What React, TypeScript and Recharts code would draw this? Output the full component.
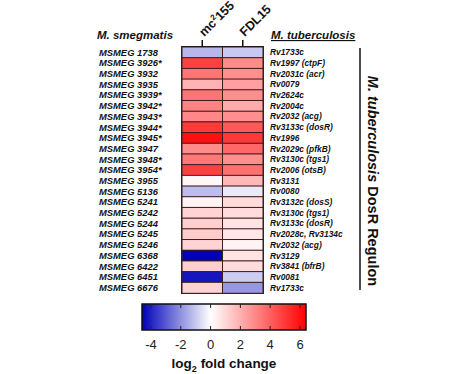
import { Bar, BarChart, Cell, ReferenceArea, XAxis, YAxis } from "recharts";

const smegGenes = [
  "MSMEG 1738", "MSMEG 3926*", "MSMEG 3932", "MSMEG 3935", "MSMEG 3939*", "MSMEG 3942*",
  "MSMEG 3943*", "MSMEG 3944*", "MSMEG 3945*", "MSMEG 3947", "MSMEG 3948*", "MSMEG 3954*",
  "MSMEG 3955", "MSMEG 5136", "MSMEG 5241", "MSMEG 5242", "MSMEG 5244", "MSMEG 5245",
  "MSMEG 5246", "MSMEG 6368", "MSMEG 6422", "MSMEG 6451", "MSMEG 6676"
];

const tbGenes = [
  "Rv1733c", "Rv1997 (ctpF)", "Rv2031c (acr)", "Rv0079", "Rv2624c", "Rv2004c",
  "Rv2032 (acg)", "Rv3133c (dosR)", "Rv1996", "Rv2029c (pfkB)", "Rv3130c (tgs1)", "Rv2006 (otsB)",
  "Rv3131", "Rv0080", "Rv3132c (dosS)", "Rv3130c (tgs1)", "Rv3133c (dosR)", "Rv2028c, Rv3134c",
  "Rv2032 (acg)", "Rv3129", "Rv3841 (bfrB)", "Rv0081", "Rv1733c"
];

// log2 fold change
const mc2155 = [-1.3, 4.8, 3.5, 1.9, 3.5, 3.1, 3.0, 5.0, 6.0, 2.9, 3.4, 4.8, 0.2, -1.2, 0.3, 1.1, 1.2, 1.3, 1.1, -4.6, 1.2, -4.2, 1.1];
const fdl15 = [-1.0, 2.9, 2.8, 2.4, 2.8, 2.1, 2.8, 4.2, 5.0, 3.8, 2.8, 3.6, 1.8, -0.4, 0.9, 0.9, 0.7, 0.6, 0.3, 0.7, 0.9, -0.9, -1.9];

const scaleTicks = [-4, -2, 0, 2, 4, 6];
const scaleMin = -4.6;
const scaleMax = 6.4;

const font = "'Liberation Sans', Arial, sans-serif";
const blue = [0, 0, 185];
const red = [255, 0, 0];

function colorFor(v: number) {
  const end = v < 0 ? blue : red;
  const t = Math.min(1, v < 0 ? v / scaleMin : v / scaleMax);
  const c = end.map((e) => Math.round(255 + (e - 255) * t));
  return `rgb(${c[0]},${c[1]},${c[2]})`;
}

const rows = smegGenes.map((gene, i) => ({ gene, tb: tbGenes[i], a: 1, b: 1 }));
const scaleRow = [{ name: "scale", range: [scaleMin, scaleMax] }];

function GeneTick({ x, y, index }: any) {
  return (
    <g fontFamily={font} fontWeight="bold" fontStyle="italic" fill="#111">
      <text x={x - 75} y={y} dy="0.35em" fontSize={9.4} textAnchor="start">{smegGenes[index]}</text>
      <text x={x + 96} y={y} dy="0.35em" fontSize={8.4} textAnchor="start">{tbGenes[index]}</text>
    </g>
  );
}

function StrainTick({ x, y, payload }: any) {
  const rot = `rotate(-45 ${x + 2} ${y})`;
  return (
    <text x={x + 2} y={y} transform={rot} fontFamily={font} fontWeight="bold" fontSize={12.5} fill="#111">
      {payload.value < 1 ? (
        <>
          mc<tspan dy={-5} fontSize={8}>2</tspan>
          <tspan dy={5}>155</tspan>
        </>
      ) : (
        "FDL15"
      )}
    </text>
  );
}

function ScaleTick({ x, y, payload }: any) {
  return (
    <g>
      <line x1={x} x2={x} y1={y - 26} y2={y - 22} stroke="#222" strokeWidth={1} />
      <line x1={x} x2={x} y1={y - 4} y2={y} stroke="#222" strokeWidth={1} />
      <text x={x} y={y + 19} textAnchor="middle" fontFamily={font} fontSize={13} fill="#222">
        {payload.value}
      </text>
    </g>
  );
}

const zeroOffset = ((0 - scaleMin) / (scaleMax - scaleMin)) * 100;

export default function App() {
  return (
    <div style={{ position: "absolute", left: 0, top: 0, width: 474, height: 374, background: "#fff" }}>
      <div style={{ position: "absolute", left: 0, top: 0 }}>
        <BarChart
          width={474}
          height={374}
          data={rows}
          layout="vertical"
          barCategoryGap={0}
          margin={{ top: 37, right: 211, bottom: 81, left: 122 }}
        >
          <XAxis
            type="number"
            orientation="top"
            domain={[0, 2]}
            ticks={[0.5, 1.5]}
            height={10}
            axisLine={false}
            tickSize={7}
            tickMargin={3}
            tickLine={{ stroke: "#111", strokeWidth: 1.5 }}
            tick={<StrainTick />}
          />
          <YAxis
            type="category"
            dataKey="gene"
            width={60}
            interval={0}
            axisLine={false}
            tickLine={false}
            tick={<GeneTick />}
          />
          <Bar dataKey="a" stackId="s" isAnimationActive={false} stroke="#3e1c1c" strokeWidth={1}>
            {rows.map((_, i) => (
              <Cell key={i} fill={colorFor(mc2155[i])} />
            ))}
          </Bar>
          <Bar dataKey="b" stackId="s" isAnimationActive={false} stroke="#3e1c1c" strokeWidth={1}>
            {rows.map((_, i) => (
              <Cell key={i} fill={colorFor(fdl15[i])} />
            ))}
          </Bar>
          <ReferenceArea x1={0} x2={2} fill="none" stroke="#111" strokeWidth={1.8} ifOverflow="visible" />
        </BarChart>
      </div>
      <div style={{ position: "absolute", left: 0, top: 0 }}>
        <BarChart
          width={474}
          height={374}
          data={scaleRow}
          layout="vertical"
          barCategoryGap={0}
          margin={{ top: 304, right: 168, bottom: 14, left: 142 }}
        >
          <defs>
            <linearGradient id="fold" x1="0" y1="0" x2="1" y2="0">
              <stop offset="0%" stopColor={colorFor(scaleMin)} />
              <stop offset={`${zeroOffset}%`} stopColor="#ffffff" />
              <stop offset="100%" stopColor={colorFor(scaleMax)} />
            </linearGradient>
          </defs>
          <XAxis
            type="number"
            domain={[scaleMin, scaleMax]}
            ticks={scaleTicks}
            height={30}
            axisLine={false}
            tickLine={false}
            tickSize={0}
            tickMargin={0}
            tick={<ScaleTick />}
          />
          <YAxis type="category" dataKey="name" hide />
          <Bar dataKey="range" fill="url(#fold)" stroke="#111" strokeWidth={1.5} isAnimationActive={false} />
        </BarChart>
      </div>
      <svg width={474} height={374} style={{ position: "absolute", left: 0, top: 0, pointerEvents: "none" }}>
        <g fontFamily={font} fontWeight="bold" fill="#111">
          <text x={135} y={39} textAnchor="middle" fontStyle="italic" fontSize={11.5}>M. smegmatis</text>
          <text x={271} y={39} fontStyle="italic" fontSize={11.5} textDecoration="underline">M. tuberculosis</text>
          <line x1={360} x2={360} y1={48} y2={290} stroke="#111" strokeWidth={1.5} />
          <text x={373} y={181} transform="rotate(90 373 181)" textAnchor="middle" dominantBaseline="central" fontSize={14.5}>
            <tspan fontStyle="italic">M. tuberculosis</tspan> DosR Regulon
          </text>
          <text x={224} y={368} textAnchor="middle" fontSize={13.5}>
            log<tspan dy={4} fontSize={9}>2</tspan>
            <tspan dy={-4}> fold change</tspan>
          </text>
        </g>
      </svg>
    </div>
  );
}
